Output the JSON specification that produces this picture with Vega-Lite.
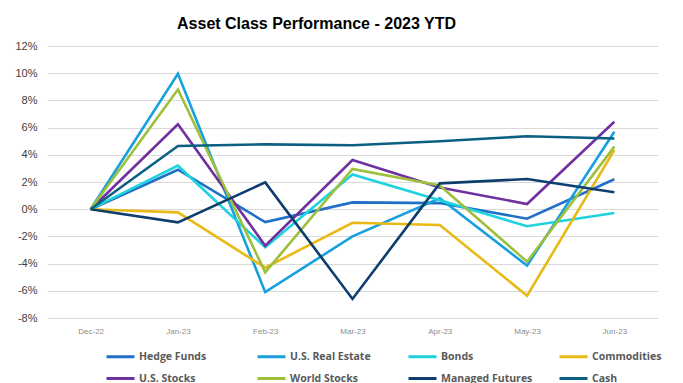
{
  "$schema": "https://vega.github.io/schema/vega-lite/v6.json",
  "autosize": {"type": "none"},
  "width": 611,
  "height": 272,
  "padding": {"left": 47, "top": 46, "right": 25, "bottom": 65},
  "background": "white",
  "title": {
    "text": "Asset Class Performance - 2023 YTD",
    "font": "Liberation Sans",
    "fontSize": 16,
    "fontWeight": "bold",
    "color": "#000000",
    "anchor": "middle",
    "dx": -36,
    "offset": 8
  },
  "config": {"view": {"stroke": null}},
  "data": {
    "values": [
      {"month": "Dec-22", "series": "Hedge Funds", "v": 0},
      {"month": "Jan-23", "series": "Hedge Funds", "v": 2.9},
      {"month": "Feb-23", "series": "Hedge Funds", "v": -0.95},
      {"month": "Mar-23", "series": "Hedge Funds", "v": 0.5},
      {"month": "Apr-23", "series": "Hedge Funds", "v": 0.45},
      {"month": "May-23", "series": "Hedge Funds", "v": -0.7},
      {"month": "Jun-23", "series": "Hedge Funds", "v": 2.2},
      {"month": "Dec-22", "series": "U.S. Real Estate", "v": 0},
      {"month": "Jan-23", "series": "U.S. Real Estate", "v": 9.95},
      {"month": "Feb-23", "series": "U.S. Real Estate", "v": -6.1},
      {"month": "Mar-23", "series": "U.S. Real Estate", "v": -2.0},
      {"month": "Apr-23", "series": "U.S. Real Estate", "v": 0.8},
      {"month": "May-23", "series": "U.S. Real Estate", "v": -4.15},
      {"month": "Jun-23", "series": "U.S. Real Estate", "v": 5.7},
      {"month": "Dec-22", "series": "Bonds", "v": 0},
      {"month": "Jan-23", "series": "Bonds", "v": 3.2},
      {"month": "Feb-23", "series": "Bonds", "v": -2.8},
      {"month": "Mar-23", "series": "Bonds", "v": 2.55},
      {"month": "Apr-23", "series": "Bonds", "v": 0.65},
      {"month": "May-23", "series": "Bonds", "v": -1.25},
      {"month": "Jun-23", "series": "Bonds", "v": -0.28},
      {"month": "Dec-22", "series": "Commodities", "v": 0},
      {"month": "Jan-23", "series": "Commodities", "v": -0.23},
      {"month": "Feb-23", "series": "Commodities", "v": -4.3},
      {"month": "Mar-23", "series": "Commodities", "v": -1.0},
      {"month": "Apr-23", "series": "Commodities", "v": -1.16},
      {"month": "May-23", "series": "Commodities", "v": -6.36},
      {"month": "Jun-23", "series": "Commodities", "v": 4.35},
      {"month": "Dec-22", "series": "U.S. Stocks", "v": 0},
      {"month": "Jan-23", "series": "U.S. Stocks", "v": 6.24},
      {"month": "Feb-23", "series": "U.S. Stocks", "v": -2.68},
      {"month": "Mar-23", "series": "U.S. Stocks", "v": 3.62},
      {"month": "Apr-23", "series": "U.S. Stocks", "v": 1.6},
      {"month": "May-23", "series": "U.S. Stocks", "v": 0.38},
      {"month": "Jun-23", "series": "U.S. Stocks", "v": 6.43},
      {"month": "Dec-22", "series": "World Stocks", "v": 0},
      {"month": "Jan-23", "series": "World Stocks", "v": 8.8},
      {"month": "Feb-23", "series": "World Stocks", "v": -4.64},
      {"month": "Mar-23", "series": "World Stocks", "v": 2.96},
      {"month": "Apr-23", "series": "World Stocks", "v": 1.75},
      {"month": "May-23", "series": "World Stocks", "v": -3.86},
      {"month": "Jun-23", "series": "World Stocks", "v": 4.6},
      {"month": "Dec-22", "series": "Managed Futures", "v": 0},
      {"month": "Jan-23", "series": "Managed Futures", "v": -0.97},
      {"month": "Feb-23", "series": "Managed Futures", "v": 1.97},
      {"month": "Mar-23", "series": "Managed Futures", "v": -6.6},
      {"month": "Apr-23", "series": "Managed Futures", "v": 1.9},
      {"month": "May-23", "series": "Managed Futures", "v": 2.22},
      {"month": "Jun-23", "series": "Managed Futures", "v": 1.24},
      {"month": "Dec-22", "series": "Cash", "v": 0},
      {"month": "Jan-23", "series": "Cash", "v": 4.65},
      {"month": "Feb-23", "series": "Cash", "v": 4.77},
      {"month": "Mar-23", "series": "Cash", "v": 4.7},
      {"month": "Apr-23", "series": "Cash", "v": 5.0},
      {"month": "May-23", "series": "Cash", "v": 5.36},
      {"month": "Jun-23", "series": "Cash", "v": 5.2}
    ]
  },
  "layer": [
    {
      "mark": {"type": "line", "strokeWidth": 2.6},
      "encoding": {
        "x": {
          "field": "month",
          "type": "ordinal",
          "sort": null,
          "scale": {"type": "point", "padding": 0.5},
          "axis": {
            "title": null,
            "domain": false,
            "ticks": false,
            "labelAngle": 0,
            "labelFont": "Liberation Sans",
            "labelFontSize": 8,
            "labelColor": "#8c8c8c",
            "labelPadding": 9
          }
        },
        "y": {
          "field": "v",
          "type": "quantitative",
          "scale": {"domain": [-8, 12], "nice": false},
          "axis": {
            "title": null,
            "values": [-8, -6, -4, -2, 0, 2, 4, 6, 8, 10, 12],
            "labelExpr": "datum.value + '%'",
            "labelOverlap": false,
            "domain": false,
            "ticks": false,
            "grid": true,
            "gridColor": "#d9d9d9",
            "gridWidth": 1,
            "labelFont": "Liberation Sans",
            "labelFontSize": 11,
            "labelColor": "#404040",
            "labelPadding": 10
          }
        },
        "color": {
          "field": "series",
          "type": "nominal",
          "scale": {
            "domain": ["Hedge Funds", "U.S. Real Estate", "Bonds", "Commodities", "U.S. Stocks", "World Stocks", "Managed Futures", "Cash"],
            "range": ["#1f70c6", "#16a0dc", "#1ed3de", "#e9b915", "#7030a0", "#9dbf3c", "#0e3e6e", "#0b5f82"]
          },
          "legend": {
            "title": null,
            "orient": "none",
            "legendX": 58,
            "legendY": 295,
            "direction": "horizontal",
            "columns": 4,
            "gridAlign": "all",
            "symbolType": "stroke",
            "symbolSize": 784,
            "symbolStrokeWidth": 3,
            "labelFont": "Open Sans",
            "labelFontWeight": "bold",
            "labelFontSize": 10.5,
            "labelColor": "#595959",
            "labelOffset": 3,
            "columnPadding": 20,
            "rowPadding": -6
          }
        }
      }
    }
  ]
}
